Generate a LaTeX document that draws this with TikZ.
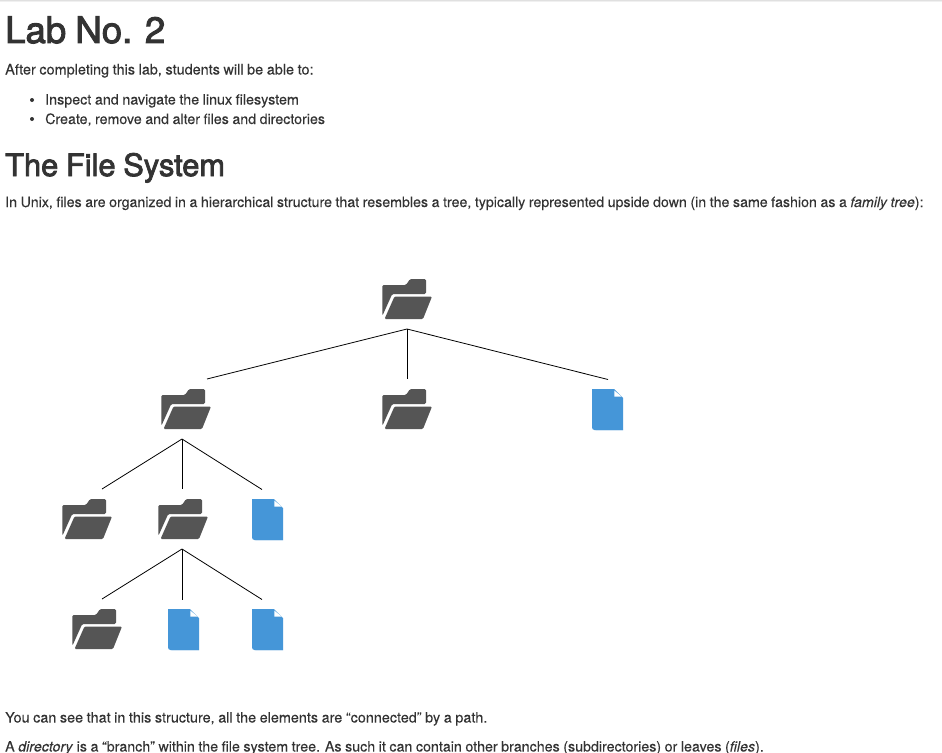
\documentclass[tikz,border=0pt]{standalone}
\usepackage{fontspec}
\setmainfont[WordSpace=0.9,FakeBold=0.1]{TeX Gyre Heros}
\newfontfamily\headfont[WordSpace=0.9,FakeBold=2.6]{TeX Gyre Heros}
\usetikzlibrary{calc}
\definecolor{ink}{HTML}{333333}
\definecolor{foldercol}{HTML}{555555}
\definecolor{filecol}{HTML}{4596D8}
\tikzset{
  x=1pt,y=-1pt,
  iconbox/.style={minimum width=30pt,minimum height=60pt,inner sep=0pt,outer sep=0pt},
  link/.style={draw=black,line width=0.8pt},
  h1text/.style={anchor=base west,inner sep=0pt,text=ink,font=\headfont\fontsize{36.6}{40}\selectfont},
  h2text/.style={anchor=base west,inner sep=0pt,text=ink,font=\headfont\fontsize{30.8}{34}\selectfont},
  bodytext/.style={anchor=base west,inner sep=0pt,text=ink,font=\fontsize{#1}{16}\selectfont},
  bodytext/.default=14.2,
  bullet/.style={circle,fill=ink,inner sep=0pt,minimum size=4pt},
  folder/.pic={
    \fill[foldercol,rounded corners=1.4pt]
      (-24.7,-14) -- (-1,-14) -- (3,-20) -- (19,-20) -- (19,-5)
      -- (-14.8,-5) -- (-24.7,17) -- cycle;
    \fill[foldercol,rounded corners=1.2pt]
      (-12.5,-2.5) -- (25,-2.5) -- (16,20) -- (-22.5,20) -- cycle;
  },
  filepic/.pic={
    \fill[filecol,rounded corners=2.5pt] (-15.5,0) -- (-15.5,20.5) -- (15.5,20.5);
    \fill[filecol] (-15.5,15) -- (-15.5,-20.5) -- (6.5,-20.5) -- (15.5,-11.5) -- (15.5,20.5) -- (-12,20.5) -- cycle;
    \fill[white] (6.8,-19) -- (14.2,-12.8) -- (6.8,-12.8) -- cycle;
  }
}
\begin{document}
\begin{tikzpicture}
\useasboundingbox (0,0) rectangle (942,752);
\clip (0,0) rectangle (942,752);
\fill[white] (0,0) rectangle (942,752);
\fill[black!6] (0,0) rectangle (942,2.5);
\fill[black!12] (0,0) rectangle (942,1);

\node[h1text] (title) at (5,43) {Lab No. 2};
\node[bodytext=14.42] (intro) at (5,74.5) {After completing this lab, students will be able to:};
\node[bullet] (dota) at (32,100) {};
\node[bodytext=14.3] (itema) at (45,104.5) {Inspect and navigate the linux filesystem};
\node[bullet] (dotb) at (32,119) {};
\node[bodytext=14.22] (itemb) at (45,124) {Create, remove and alter files and directories};
\node[h2text] (sub) at (5,176) {The File System};
\node[bodytext] (para) at (5,207) {In Unix, files are organized in a hierarchical structure that resembles a tree, typically represented upside down (in the same fashion as a \textit{family tree}):};
\node[bodytext=14.38] (youcan) at (5,722.5) {You can see that in this structure, all the elements are “connected” by a path.};
\node[bodytext=14.24] (adir) at (5,751.5) {A \textit{directory} is a “branch” within the file system tree. As such it can contain other branches (subdirectories) or leaves (\textit{files}).};

% icons: box extends 10 above and below the glyph
\node[iconbox] (root) at (407,299) {}; \pic at (root) {folder};
\node[iconbox] (a) at (186,409) {}; \pic at (a) {folder};
\node[iconbox] (b) at (407,409) {}; \pic at (b) {folder};
\node[iconbox] (c) at (607.5,409.5) {}; \pic at (c) {filepic};
\node[iconbox] (d) at (87,519) {}; \pic at (d) {folder};
\node[iconbox] (e) at (183,519) {}; \pic at (e) {folder};
\node[iconbox] (f) at (267.5,519.5) {}; \pic at (f) {filepic};
\node[iconbox] (g) at (97,629) {}; \pic at (g) {folder};
\node[iconbox] (h) at (183.5,629.5) {}; \pic at (h) {filepic};
\node[iconbox] (i) at (267.5,629.5) {}; \pic at (i) {filepic};

\draw[link] (root.south) -- ([xshift=21pt]a.north);
\draw[link] (root.south) -- (b.north);
\draw[link] (root.south) -- ([xshift=0.5pt]c.north);
\coordinate (ajoin) at ([xshift=-4pt]a.south);
\draw[link] (ajoin) -- ([xshift=15pt]d.north);
\draw[link] (ajoin) -- ([xshift=-1pt]e.north);
\draw[link] (ajoin) -- ([xshift=-5.5pt]f.north);
\coordinate (ejoin) at ([xshift=-1pt]e.south);
\draw[link] (ejoin) -- ([xshift=5pt]g.north);
\draw[link] (ejoin) -- ([xshift=-1.5pt]h.north);
\draw[link] (ejoin) -- ([xshift=-5.5pt]i.north);
\end{tikzpicture}
\end{document}
